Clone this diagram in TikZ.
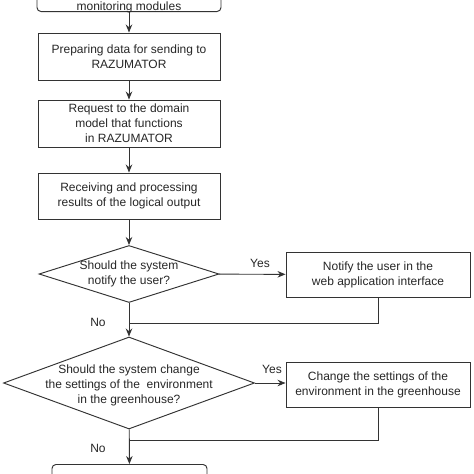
\documentclass[tikz,border=0pt]{standalone}
\usepackage{fontspec}
\setmainfont{Liberation Sans}
\usetikzlibrary{shapes.geometric,arrows.meta}
\begin{document}
\begin{tikzpicture}[x=1pt,y=-1pt,
  every node/.style={font=\fontsize{12}{15}\selectfont, text=black!85},
  line/.style={draw=black!80, line width=0.95pt},
  flow/.style={line, -{Stealth[length=8pt,width=6.5pt]}},
  procbox/.style={draw=black!80, line width=0.95pt, rectangle, align=center,
    minimum width=182pt, inner sep=0pt},
  termbox/.style={procbox, rounded corners=4pt},
  decision/.style={draw=black!80, line width=0.95pt, diamond, inner sep=0pt},
  tag/.style={inner sep=0pt}]
\useasboundingbox (0,0) rectangle (474,474);
\begin{scope}
\clip (0,0) rectangle (474,474);

% process chain
\node[termbox, minimum width=184pt, minimum height=44pt, anchor=south,
  label={[align=center, yshift=-18pt]center:monitoring modules}] (n0) at (129,12) {};
\node[procbox, minimum height=47pt] (n1) at (129,56.5)
  {Preparing data for sending to\\RAZUMATOR};
\node[procbox, minimum height=47pt] (n2) at (129,123.5)
  {Request to the domain\\model that functions\\in RAZUMATOR};
\node[procbox, minimum height=46pt] (n3) at (129,196)
  {Receiving and processing\\results of the logical output};

% first decision
\node[decision, minimum width=180pt, minimum height=57pt,
  label={[align=center]center:Should the system\\notify the user?}] (d1) at (129,274) {};
\node[procbox, minimum width=184pt, minimum height=45pt] (a1) at (378,274.5)
  {Notify the user in the\\web application interface};

% second decision
\node[decision, minimum width=251pt, minimum height=92pt,
  label={[align=center, yshift=-2pt]center:Should the system change\\the settings of the \ environment\\in the greenhouse?}] (d2) at (129,383) {};
\node[procbox, minimum width=184pt, minimum height=45pt] (a2) at (378,384.5)
  {Change the settings of the\\environment in the greenhouse};

% final step
\node[termbox, minimum width=155pt, minimum height=40pt, anchor=north] (n4) at (129.5,464) {};

% junctions where the side branches rejoin
\coordinate (j1) at (129,323);
\coordinate (j2) at (129,440);

% connectors
\draw[flow] (n0) -- (n1);
\draw[flow] (n1) -- (n2);
\draw[flow] (n2) -- (n3);
\draw[flow] (n3) -- (d1);
\draw[flow] (d1) -- (a1);
\draw[line] (a1.south) |- (j1);
\draw[flow] (d1) -- (d2);
\draw[flow] (d2) -- (a2.west |- d2.east);
\draw[line] (a2.south) |- (j2);
\draw[flow] (d2) -- (n4);

% branch labels
\node[tag] (y1) at (260,263) {Yes};
\node[tag] (no1) at (98,322) {No};
\node[tag] (y2) at (272,369) {Yes};
\node[tag] (no2) at (98,448) {No};
\end{scope}
\end{tikzpicture}
\end{document}
